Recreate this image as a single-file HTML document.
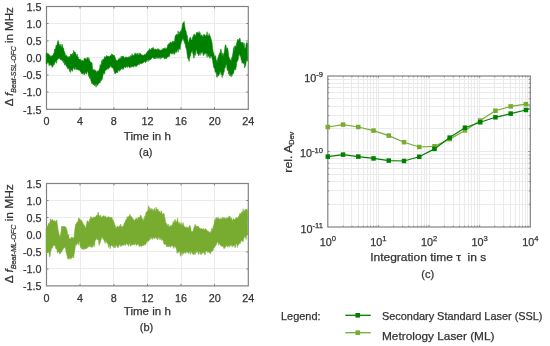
<!DOCTYPE html>
<html><head><meta charset="utf-8"><title>Figure</title>
<style>html,body{margin:0;padding:0;background:#fff;width:550px;height:346px;overflow:hidden}svg{display:block}</style>
</head><body>
<svg width="550" height="346" viewBox="0 0 550 346">
<style>
text{font-family:"Liberation Sans", Arial, sans-serif;fill:#333;stroke:#333;stroke-width:0.25px}
.tk{font-size:10.8px}
.sup{font-size:7.6px}
.lab{font-size:11px}
.yl{font-size:11px}
.sub{font-size:6.6px;font-style:italic}
</style>
<rect width="550" height="346" fill="#fff"/>
<!-- plot a -->
<line x1="46.5" y1="23.5" x2="248.3" y2="23.5" stroke="#ebebeb" stroke-width="1"/>
<line x1="46.5" y1="40.5" x2="248.3" y2="40.5" stroke="#ebebeb" stroke-width="1"/>
<line x1="46.5" y1="57.5" x2="248.3" y2="57.5" stroke="#ebebeb" stroke-width="1"/>
<line x1="46.5" y1="75.5" x2="248.3" y2="75.5" stroke="#ebebeb" stroke-width="1"/>
<line x1="46.5" y1="92.5" x2="248.3" y2="92.5" stroke="#ebebeb" stroke-width="1"/>
<line x1="80.5" y1="6.5" x2="80.5" y2="109.3" stroke="#ebebeb" stroke-width="1"/>
<line x1="113.5" y1="6.5" x2="113.5" y2="109.3" stroke="#ebebeb" stroke-width="1"/>
<line x1="147.5" y1="6.5" x2="147.5" y2="109.3" stroke="#ebebeb" stroke-width="1"/>
<line x1="181.5" y1="6.5" x2="181.5" y2="109.3" stroke="#ebebeb" stroke-width="1"/>
<line x1="214.5" y1="6.5" x2="214.5" y2="109.3" stroke="#ebebeb" stroke-width="1"/>
<line x1="46.5" y1="23.5" x2="48.5" y2="23.5" stroke="#828282" stroke-width="1"/>
<line x1="248.3" y1="23.5" x2="246.3" y2="23.5" stroke="#828282" stroke-width="1"/>
<line x1="46.5" y1="41.0" x2="48.5" y2="41.0" stroke="#828282" stroke-width="1"/>
<line x1="248.3" y1="41.0" x2="246.3" y2="41.0" stroke="#828282" stroke-width="1"/>
<line x1="46.5" y1="58.0" x2="48.5" y2="58.0" stroke="#828282" stroke-width="1"/>
<line x1="248.3" y1="58.0" x2="246.3" y2="58.0" stroke="#828282" stroke-width="1"/>
<line x1="46.5" y1="75.0" x2="48.5" y2="75.0" stroke="#828282" stroke-width="1"/>
<line x1="248.3" y1="75.0" x2="246.3" y2="75.0" stroke="#828282" stroke-width="1"/>
<line x1="46.5" y1="92.0" x2="48.5" y2="92.0" stroke="#828282" stroke-width="1"/>
<line x1="248.3" y1="92.0" x2="246.3" y2="92.0" stroke="#828282" stroke-width="1"/>
<line x1="80.0" y1="109.3" x2="80.0" y2="107.3" stroke="#828282" stroke-width="1"/>
<line x1="80.0" y1="6.5" x2="80.0" y2="8.5" stroke="#828282" stroke-width="1"/>
<line x1="114.0" y1="109.3" x2="114.0" y2="107.3" stroke="#828282" stroke-width="1"/>
<line x1="114.0" y1="6.5" x2="114.0" y2="8.5" stroke="#828282" stroke-width="1"/>
<line x1="147.5" y1="109.3" x2="147.5" y2="107.3" stroke="#828282" stroke-width="1"/>
<line x1="147.5" y1="6.5" x2="147.5" y2="8.5" stroke="#828282" stroke-width="1"/>
<line x1="181.0" y1="109.3" x2="181.0" y2="107.3" stroke="#828282" stroke-width="1"/>
<line x1="181.0" y1="6.5" x2="181.0" y2="8.5" stroke="#828282" stroke-width="1"/>
<line x1="214.5" y1="109.3" x2="214.5" y2="107.3" stroke="#828282" stroke-width="1"/>
<line x1="214.5" y1="6.5" x2="214.5" y2="8.5" stroke="#828282" stroke-width="1"/>
<rect x="46.5" y="6.5" width="201.8" height="102.8" fill="none" stroke="#828282" stroke-width="1.2"/>
<text x="41.6" y="10.7" text-anchor="end" class="tk">1.5</text>
<text x="41.6" y="27.8" text-anchor="end" class="tk">1.0</text>
<text x="41.6" y="45.0" text-anchor="end" class="tk">0.5</text>
<text x="41.6" y="62.1" text-anchor="end" class="tk">0.0</text>
<text x="41.6" y="79.2" text-anchor="end" class="tk">-0.5</text>
<text x="41.6" y="96.4" text-anchor="end" class="tk">-1.0</text>
<text x="41.6" y="113.5" text-anchor="end" class="tk">-1.5</text>
<text x="46.5" y="125.1" text-anchor="middle" class="tk">0</text>
<text x="80.1" y="125.1" text-anchor="middle" class="tk">4</text>
<text x="113.8" y="125.1" text-anchor="middle" class="tk">8</text>
<text x="147.4" y="125.1" text-anchor="middle" class="tk">12</text>
<text x="181.0" y="125.1" text-anchor="middle" class="tk">16</text>
<text x="214.7" y="125.1" text-anchor="middle" class="tk">20</text>
<text x="248.3" y="125.1" text-anchor="middle" class="tk">24</text>
<polygon points="46.10,53.9 46.60,53.0 47.10,54.6 47.60,52.9 48.10,54.5 48.60,53.7 49.10,54.5 49.60,55.8 50.10,55.2 50.60,57.3 51.10,56.1 51.60,55.8 52.10,56.5 52.60,55.1 53.10,54.9 53.60,53.2 54.10,52.8 54.60,49.0 55.10,49.6 55.60,48.0 56.10,45.2 56.60,46.0 57.10,44.3 57.60,41.4 58.10,40.4 58.60,42.1 59.10,43.8 59.60,45.6 60.10,46.6 60.60,44.2 61.10,46.1 61.60,47.7 62.10,44.2 62.60,46.3 63.10,48.0 63.60,48.1 64.10,51.6 64.60,51.7 65.10,53.4 65.60,55.9 66.10,55.5 66.60,55.3 67.10,56.3 67.60,57.5 68.10,56.4 68.60,57.4 69.10,57.1 69.60,56.2 70.10,57.8 70.60,53.8 71.10,55.6 71.60,54.1 72.10,56.1 72.60,53.3 73.10,54.9 73.60,50.4 74.10,51.7 74.60,51.9 75.10,52.0 75.60,53.6 76.10,55.1 76.60,56.8 77.10,54.0 77.60,56.4 78.10,56.7 78.60,58.8 79.10,59.6 79.60,59.1 80.10,59.2 80.60,59.0 81.10,61.3 81.60,60.7 82.10,59.8 82.60,61.2 83.10,60.6 83.60,62.1 84.10,58.6 84.60,58.1 85.10,59.2 85.60,58.5 86.10,58.8 86.60,59.8 87.10,57.5 87.60,59.0 88.10,57.2 88.60,60.5 89.10,58.2 89.60,61.3 90.10,61.0 90.60,62.6 91.10,62.6 91.60,62.3 92.10,63.1 92.60,69.7 93.10,69.5 93.60,69.4 94.10,70.9 94.60,69.5 95.10,70.8 95.60,70.2 96.10,71.4 96.60,72.9 97.10,70.6 97.60,71.9 98.10,70.8 98.60,71.5 99.10,69.3 99.60,69.0 100.10,64.5 100.60,66.0 101.10,64.7 101.60,60.6 102.10,62.4 102.60,59.5 103.10,58.9 103.60,60.0 104.10,58.7 104.60,56.5 105.10,57.0 105.60,57.3 106.10,56.5 106.60,55.5 107.10,55.7 107.60,56.6 108.10,56.2 108.60,56.3 109.10,56.8 109.60,56.3 110.10,55.9 110.60,55.6 111.10,55.4 111.60,53.9 112.10,53.9 112.60,54.7 113.10,54.9 113.60,55.5 114.10,55.1 114.60,56.0 115.10,57.4 115.60,58.7 116.10,60.6 116.60,59.9 117.10,60.7 117.60,60.7 118.10,59.6 118.60,58.7 119.10,59.8 119.60,58.2 120.10,58.3 120.60,58.8 121.10,56.1 121.60,57.2 122.10,57.2 122.60,55.8 123.10,57.9 123.60,56.1 124.10,58.1 124.60,57.7 125.10,58.2 125.60,56.8 126.10,57.9 126.60,56.8 127.10,57.6 127.60,57.4 128.10,57.6 128.60,56.7 129.10,57.7 129.60,56.4 130.10,57.8 130.60,55.6 131.10,55.8 131.60,56.5 132.10,53.8 132.60,55.8 133.10,55.5 133.60,54.8 134.10,55.8 134.60,54.2 135.10,52.8 135.60,54.6 136.10,53.4 136.60,54.2 137.10,54.7 137.60,53.1 138.10,55.3 138.60,54.7 139.10,52.7 139.60,54.9 140.10,53.8 140.60,53.4 141.10,54.2 141.60,54.7 142.10,55.4 142.60,54.8 143.10,56.1 143.60,55.0 144.10,54.8 144.60,54.3 145.10,54.7 145.60,54.2 146.10,53.3 146.60,53.1 147.10,51.8 147.60,51.7 148.10,50.6 148.60,50.4 149.10,50.3 149.60,48.5 150.10,49.3 150.60,50.1 151.10,50.1 151.60,48.0 152.10,48.8 152.60,48.1 153.10,47.3 153.60,48.2 154.10,49.5 154.60,49.5 155.10,48.7 155.60,49.2 156.10,50.3 156.60,49.1 157.10,50.4 157.60,48.6 158.10,50.0 158.60,48.7 159.10,49.4 159.60,49.9 160.10,50.2 160.60,50.1 161.10,50.3 161.60,49.8 162.10,49.8 162.60,48.7 163.10,48.5 163.60,48.6 164.10,48.7 164.60,48.0 165.10,47.5 165.60,49.3 166.10,48.9 166.60,48.0 167.10,47.7 167.60,45.1 168.10,44.7 168.60,43.8 169.10,43.6 169.60,44.0 170.10,42.1 170.60,42.2 171.10,42.2 171.60,43.5 172.10,42.1 172.60,41.1 173.10,42.2 173.60,41.3 174.10,41.8 174.60,40.7 175.10,36.2 175.60,35.3 176.10,35.2 176.60,34.1 177.10,35.1 177.60,35.3 178.10,30.9 178.60,34.1 179.10,34.4 179.60,31.8 180.10,32.8 180.60,30.6 181.10,31.6 181.60,29.2 182.10,27.3 182.60,23.3 183.10,22.7 183.60,22.8 184.10,21.4 184.60,24.5 185.10,28.3 185.60,30.4 186.10,31.1 186.60,34.7 187.10,34.7 187.60,37.4 188.10,42.4 188.60,41.9 189.10,40.6 189.60,37.9 190.10,38.2 190.60,37.3 191.10,39.5 191.60,40.1 192.10,40.1 192.60,36.8 193.10,36.9 193.60,34.8 194.10,34.2 194.60,34.1 195.10,36.5 195.60,35.3 196.10,34.3 196.60,32.6 197.10,32.1 197.60,32.6 198.10,33.3 198.60,33.0 199.10,31.4 199.60,34.0 200.10,32.6 200.60,36.2 201.10,35.2 201.60,34.9 202.10,35.1 202.60,37.1 203.10,36.9 203.60,34.3 204.10,34.9 204.60,34.6 205.10,36.2 205.60,35.7 206.10,34.8 206.60,35.4 207.10,31.7 207.60,36.6 208.10,35.1 208.60,36.7 209.10,33.4 209.60,36.1 210.10,35.7 210.60,37.5 211.10,39.2 211.60,40.6 212.10,42.9 212.60,48.0 213.10,51.3 213.60,52.9 214.10,54.4 214.60,57.3 215.10,56.2 215.60,55.5 216.10,60.3 216.60,59.9 217.10,62.4 217.60,58.6 218.10,57.8 218.60,55.8 219.10,54.4 219.60,52.9 220.10,53.2 220.60,49.6 221.10,49.2 221.60,53.2 222.10,57.1 222.60,52.9 223.10,56.8 223.60,54.1 224.10,53.0 224.60,49.9 225.10,45.6 225.60,44.7 226.10,45.9 226.60,50.3 227.10,48.0 227.60,47.8 228.10,50.9 228.60,54.4 229.10,58.1 229.60,58.2 230.10,59.4 230.60,59.9 231.10,61.1 231.60,57.8 232.10,57.5 232.60,54.7 233.10,52.1 233.60,47.4 234.10,51.4 234.60,45.9 235.10,46.8 235.60,45.6 236.10,47.3 236.60,43.0 237.10,41.8 237.60,39.4 238.10,41.2 238.60,39.6 239.10,39.5 239.60,38.3 240.10,38.2 240.60,42.3 241.10,42.1 241.60,42.4 242.10,43.8 242.60,42.0 243.10,42.9 243.60,46.1 244.10,42.8 244.60,47.5 245.10,48.7 245.60,47.5 246.10,43.7 246.60,42.7 247.10,42.8 247.60,43.0 247.60,60.7 247.10,61.3 246.60,59.5 246.10,62.7 245.60,65.9 245.10,66.2 244.60,68.0 244.10,61.9 243.60,63.7 243.10,62.9 242.60,61.9 242.10,63.4 241.60,60.2 241.10,59.9 240.60,55.0 240.10,56.5 239.60,54.7 239.10,54.1 238.60,56.7 238.10,59.7 237.60,61.3 237.10,60.7 236.60,64.0 236.10,67.9 235.60,70.1 235.10,67.6 234.60,69.8 234.10,70.4 233.60,73.8 233.10,72.1 232.60,74.6 232.10,75.7 231.60,73.9 231.10,77.1 230.60,73.4 230.10,76.0 229.60,75.5 229.10,72.6 228.60,74.2 228.10,69.2 227.60,70.8 227.10,69.9 226.60,65.2 226.10,63.8 225.60,66.5 225.10,68.2 224.60,68.3 224.10,72.1 223.60,73.1 223.10,75.3 222.60,74.3 222.10,77.6 221.60,72.5 221.10,75.0 220.60,72.2 220.10,70.7 219.60,74.1 219.10,73.9 218.60,75.7 218.10,76.2 217.60,74.3 217.10,77.5 216.60,76.6 216.10,72.0 215.60,72.4 215.10,71.8 214.60,67.9 214.10,68.3 213.60,67.1 213.10,64.3 212.60,60.2 212.10,58.7 211.60,56.1 211.10,56.6 210.60,56.2 210.10,58.4 209.60,58.1 209.10,54.4 208.60,56.6 208.10,56.2 207.60,52.7 207.10,57.4 206.60,54.4 206.10,53.5 205.60,52.0 205.10,54.4 204.60,54.0 204.10,53.3 203.60,55.4 203.10,55.6 202.60,51.9 202.10,52.0 201.60,52.6 201.10,53.7 200.60,51.8 200.10,55.4 199.60,52.4 199.10,55.1 198.60,55.8 198.10,53.7 197.60,53.0 197.10,54.0 196.60,49.4 196.10,50.0 195.60,53.7 195.10,55.5 194.60,52.9 194.10,58.3 193.60,57.5 193.10,54.4 192.60,52.8 192.10,50.0 191.60,52.6 191.10,51.6 190.60,55.6 190.10,56.4 189.60,58.2 189.10,61.5 188.60,59.2 188.10,59.1 187.60,57.5 187.10,54.1 186.60,50.1 186.10,48.3 185.60,47.0 185.10,43.5 184.60,43.4 184.10,41.0 183.60,40.4 183.10,37.7 182.60,39.5 182.10,40.5 181.60,41.6 181.10,43.1 180.60,45.6 180.10,49.9 179.60,49.3 179.10,48.4 178.60,49.3 178.10,52.3 177.60,49.8 177.10,49.9 176.60,52.2 176.10,52.6 175.60,50.6 175.10,53.4 174.60,53.3 174.10,54.7 173.60,52.0 173.10,53.6 172.60,54.1 172.10,52.6 171.60,54.2 171.10,53.5 170.60,52.9 170.10,53.5 169.60,55.4 169.10,57.1 168.60,56.1 168.10,56.7 167.60,57.1 167.10,57.1 166.60,58.5 166.10,58.8 165.60,57.9 165.10,58.8 164.60,58.8 164.10,58.5 163.60,57.6 163.10,56.8 162.60,57.6 162.10,57.1 161.60,58.2 161.10,57.8 160.60,57.5 160.10,59.3 159.60,57.8 159.10,57.0 158.60,58.4 158.10,57.8 157.60,58.4 157.10,57.1 156.60,57.0 156.10,58.6 155.60,57.3 155.10,59.0 154.60,57.9 154.10,58.9 153.60,58.2 153.10,57.3 152.60,57.1 152.10,58.2 151.60,58.4 151.10,59.3 150.60,59.4 150.10,59.8 149.60,60.2 149.10,59.8 148.60,59.7 148.10,61.6 147.60,59.7 147.10,60.6 146.60,60.5 146.10,62.2 145.60,62.5 145.10,62.5 144.60,61.3 144.10,62.0 143.60,62.5 143.10,62.7 142.60,62.7 142.10,63.7 141.60,63.1 141.10,64.1 140.60,62.9 140.10,63.7 139.60,63.6 139.10,65.1 138.60,63.6 138.10,64.9 137.60,65.3 137.10,65.2 136.60,65.9 136.10,66.8 135.60,66.0 135.10,66.0 134.60,66.2 134.10,65.6 133.60,67.3 133.10,66.5 132.60,66.1 132.10,66.9 131.60,65.8 131.10,67.6 130.60,66.8 130.10,67.6 129.60,67.9 129.10,66.8 128.60,66.2 128.10,66.7 127.60,67.7 127.10,66.6 126.60,66.0 126.10,67.1 125.60,68.1 125.10,66.7 124.60,66.9 124.10,67.0 123.60,69.4 123.10,67.4 122.60,69.4 122.10,68.1 121.60,69.1 121.10,68.5 120.60,70.3 120.10,68.9 119.60,70.8 119.10,71.5 118.60,69.7 118.10,70.3 117.60,73.0 117.10,72.5 116.60,72.2 116.10,73.1 115.60,73.4 115.10,73.9 114.60,73.0 114.10,71.2 113.60,69.6 113.10,68.3 112.60,67.9 112.10,67.6 111.60,67.4 111.10,65.9 110.60,65.7 110.10,67.6 109.60,67.6 109.10,67.1 108.60,69.2 108.10,68.1 107.60,68.8 107.10,69.5 106.60,69.5 106.10,70.3 105.60,70.6 105.10,70.3 104.60,74.2 104.10,72.7 103.60,73.5 103.10,74.8 102.60,77.5 102.10,79.7 101.60,79.5 101.10,81.1 100.60,80.6 100.10,83.1 99.60,82.4 99.10,83.4 98.60,83.3 98.10,84.4 97.60,85.6 97.10,84.2 96.60,84.4 96.10,87.2 95.60,85.5 95.10,83.5 94.60,85.9 94.10,84.0 93.60,84.7 93.10,85.0 92.60,82.2 92.10,83.9 91.60,83.0 91.10,81.4 90.60,79.5 90.10,76.9 89.60,78.5 89.10,75.3 88.60,76.4 88.10,72.9 87.60,71.5 87.10,71.4 86.60,74.3 86.10,73.0 85.60,72.4 85.10,73.6 84.60,73.9 84.10,75.1 83.60,73.4 83.10,72.9 82.60,74.1 82.10,73.7 81.60,73.8 81.10,72.6 80.60,71.9 80.10,70.9 79.60,69.6 79.10,70.6 78.60,70.0 78.10,69.7 77.60,69.5 77.10,69.6 76.60,68.8 76.10,69.9 75.60,68.2 75.10,66.5 74.60,69.7 74.10,69.3 73.60,67.9 73.10,67.7 72.60,71.4 72.10,70.4 71.60,70.1 71.10,70.2 70.60,72.6 70.10,69.0 69.60,71.5 69.10,68.3 68.60,68.0 68.10,69.2 67.60,68.7 67.10,66.8 66.60,66.4 66.10,66.2 65.60,64.1 65.10,64.3 64.60,65.2 64.10,61.5 63.60,63.1 63.10,59.7 62.60,61.4 62.10,60.8 61.60,59.7 61.10,59.7 60.60,60.0 60.10,58.7 59.60,58.6 59.10,58.2 58.60,57.9 58.10,59.5 57.60,59.4 57.10,59.3 56.60,63.3 56.10,60.3 55.60,62.1 55.10,62.1 54.60,63.2 54.10,65.0 53.60,63.9 53.10,66.5 52.60,66.5 52.10,67.4 51.60,65.5 51.10,64.9 50.60,64.5 50.10,65.4 49.60,64.1 49.10,65.8 48.60,63.1 48.10,62.4 47.60,62.3 47.10,63.5 46.60,64.1 46.10,64.1" fill="#008000" stroke="#008000" stroke-width="0.5" stroke-linejoin="round"/>
<text class="lab" x="147.3" y="139.7" text-anchor="middle" textLength="47" lengthAdjust="spacingAndGlyphs">Time in h</text>
<text class="lab" x="145.8" y="156.1" text-anchor="middle">(a)</text>
<text class="yl" transform="translate(13,56.7) rotate(-90)" text-anchor="middle" textLength="99" lengthAdjust="spacingAndGlyphs">&#916; <tspan font-style="italic">f</tspan><tspan class="sub" dy="2.6">Beat-SSL-OFC</tspan><tspan dy="-2.6"> in MHz</tspan></text>
<!-- plot b -->
<line x1="46.5" y1="200.5" x2="248.3" y2="200.5" stroke="#ebebeb" stroke-width="1"/>
<line x1="46.5" y1="217.5" x2="248.3" y2="217.5" stroke="#ebebeb" stroke-width="1"/>
<line x1="46.5" y1="234.5" x2="248.3" y2="234.5" stroke="#ebebeb" stroke-width="1"/>
<line x1="46.5" y1="251.5" x2="248.3" y2="251.5" stroke="#ebebeb" stroke-width="1"/>
<line x1="46.5" y1="268.5" x2="248.3" y2="268.5" stroke="#ebebeb" stroke-width="1"/>
<line x1="80.5" y1="183.5" x2="80.5" y2="285.9" stroke="#ebebeb" stroke-width="1"/>
<line x1="113.5" y1="183.5" x2="113.5" y2="285.9" stroke="#ebebeb" stroke-width="1"/>
<line x1="147.5" y1="183.5" x2="147.5" y2="285.9" stroke="#ebebeb" stroke-width="1"/>
<line x1="181.5" y1="183.5" x2="181.5" y2="285.9" stroke="#ebebeb" stroke-width="1"/>
<line x1="214.5" y1="183.5" x2="214.5" y2="285.9" stroke="#ebebeb" stroke-width="1"/>
<line x1="46.5" y1="200.5" x2="48.5" y2="200.5" stroke="#828282" stroke-width="1"/>
<line x1="248.3" y1="200.5" x2="246.3" y2="200.5" stroke="#828282" stroke-width="1"/>
<line x1="46.5" y1="217.5" x2="48.5" y2="217.5" stroke="#828282" stroke-width="1"/>
<line x1="248.3" y1="217.5" x2="246.3" y2="217.5" stroke="#828282" stroke-width="1"/>
<line x1="46.5" y1="234.5" x2="48.5" y2="234.5" stroke="#828282" stroke-width="1"/>
<line x1="248.3" y1="234.5" x2="246.3" y2="234.5" stroke="#828282" stroke-width="1"/>
<line x1="46.5" y1="252.0" x2="48.5" y2="252.0" stroke="#828282" stroke-width="1"/>
<line x1="248.3" y1="252.0" x2="246.3" y2="252.0" stroke="#828282" stroke-width="1"/>
<line x1="46.5" y1="269.0" x2="48.5" y2="269.0" stroke="#828282" stroke-width="1"/>
<line x1="248.3" y1="269.0" x2="246.3" y2="269.0" stroke="#828282" stroke-width="1"/>
<line x1="80.0" y1="285.9" x2="80.0" y2="283.9" stroke="#828282" stroke-width="1"/>
<line x1="80.0" y1="183.5" x2="80.0" y2="185.5" stroke="#828282" stroke-width="1"/>
<line x1="114.0" y1="285.9" x2="114.0" y2="283.9" stroke="#828282" stroke-width="1"/>
<line x1="114.0" y1="183.5" x2="114.0" y2="185.5" stroke="#828282" stroke-width="1"/>
<line x1="147.5" y1="285.9" x2="147.5" y2="283.9" stroke="#828282" stroke-width="1"/>
<line x1="147.5" y1="183.5" x2="147.5" y2="185.5" stroke="#828282" stroke-width="1"/>
<line x1="181.0" y1="285.9" x2="181.0" y2="283.9" stroke="#828282" stroke-width="1"/>
<line x1="181.0" y1="183.5" x2="181.0" y2="185.5" stroke="#828282" stroke-width="1"/>
<line x1="214.5" y1="285.9" x2="214.5" y2="283.9" stroke="#828282" stroke-width="1"/>
<line x1="214.5" y1="183.5" x2="214.5" y2="185.5" stroke="#828282" stroke-width="1"/>
<rect x="46.5" y="183.5" width="201.8" height="102.4" fill="none" stroke="#828282" stroke-width="1.2"/>
<text x="41.6" y="187.7" text-anchor="end" class="tk">1.5</text>
<text x="41.6" y="204.8" text-anchor="end" class="tk">1.0</text>
<text x="41.6" y="221.8" text-anchor="end" class="tk">0.5</text>
<text x="41.6" y="238.9" text-anchor="end" class="tk">0.0</text>
<text x="41.6" y="256.0" text-anchor="end" class="tk">-0.5</text>
<text x="41.6" y="273.0" text-anchor="end" class="tk">-1.0</text>
<text x="41.6" y="290.1" text-anchor="end" class="tk">-1.5</text>
<text x="46.5" y="301.7" text-anchor="middle" class="tk">0</text>
<text x="80.1" y="301.7" text-anchor="middle" class="tk">4</text>
<text x="113.8" y="301.7" text-anchor="middle" class="tk">8</text>
<text x="147.4" y="301.7" text-anchor="middle" class="tk">12</text>
<text x="181.0" y="301.7" text-anchor="middle" class="tk">16</text>
<text x="214.7" y="301.7" text-anchor="middle" class="tk">20</text>
<text x="248.3" y="301.7" text-anchor="middle" class="tk">24</text>
<polygon points="46.10,227.9 46.60,227.7 47.10,225.7 47.60,227.3 48.10,224.8 48.60,223.1 49.10,223.7 49.60,223.0 50.10,221.4 50.60,218.5 51.10,219.7 51.60,220.6 52.10,219.5 52.60,219.6 53.10,221.1 53.60,221.3 54.10,220.5 54.60,220.8 55.10,221.2 55.60,221.4 56.10,220.8 56.60,219.8 57.10,222.4 57.60,225.4 58.10,230.0 58.60,231.5 59.10,234.5 59.60,235.7 60.10,237.2 60.60,234.3 61.10,231.1 61.60,226.3 62.10,226.5 62.60,226.7 63.10,226.1 63.60,226.7 64.10,226.6 64.60,226.6 65.10,226.3 65.60,228.0 66.10,227.5 66.60,228.9 67.10,230.7 67.60,234.2 68.10,234.9 68.60,234.5 69.10,237.9 69.60,238.7 70.10,238.9 70.60,238.9 71.10,237.2 71.60,237.6 72.10,236.9 72.60,237.5 73.10,238.7 73.60,238.0 74.10,236.4 74.60,231.4 75.10,227.6 75.60,224.3 76.10,223.8 76.60,223.3 77.10,221.8 77.60,222.1 78.10,221.1 78.60,217.8 79.10,218.8 79.60,218.7 80.10,219.4 80.60,219.9 81.10,220.9 81.60,220.3 82.10,221.5 82.60,222.8 83.10,223.2 83.60,224.6 84.10,224.8 84.60,225.6 85.10,228.3 85.60,227.1 86.10,226.4 86.60,223.8 87.10,220.8 87.60,220.8 88.10,222.7 88.60,221.5 89.10,221.9 89.60,219.2 90.10,220.6 90.60,216.8 91.10,216.7 91.60,217.8 92.10,217.8 92.60,218.6 93.10,217.4 93.60,217.3 94.10,216.7 94.60,218.1 95.10,217.3 95.60,216.7 96.10,215.7 96.60,215.7 97.10,214.8 97.60,215.7 98.10,211.9 98.60,213.8 99.10,216.5 99.60,216.2 100.10,215.4 100.60,215.1 101.10,217.3 101.60,217.2 102.10,216.8 102.60,216.4 103.10,215.8 103.60,215.9 104.10,216.1 104.60,218.1 105.10,215.6 105.60,216.6 106.10,218.1 106.60,217.7 107.10,216.7 107.60,217.5 108.10,217.5 108.60,216.6 109.10,216.7 109.60,217.7 110.10,217.1 110.60,218.5 111.10,217.0 111.60,218.3 112.10,217.4 112.60,221.1 113.10,219.7 113.60,221.5 114.10,222.3 114.60,224.8 115.10,225.2 115.60,227.0 116.10,227.9 116.60,228.0 117.10,226.0 117.60,226.3 118.10,227.2 118.60,226.9 119.10,226.4 119.60,225.6 120.10,227.2 120.60,224.0 121.10,225.6 121.60,227.2 122.10,226.4 122.60,227.1 123.10,225.8 123.60,226.1 124.10,223.2 124.60,223.0 125.10,221.9 125.60,220.7 126.10,219.3 126.60,220.2 127.10,216.5 127.60,218.3 128.10,217.3 128.60,216.5 129.10,215.8 129.60,215.2 130.10,214.3 130.60,216.5 131.10,216.5 131.60,216.5 132.10,218.0 132.60,218.2 133.10,218.7 133.60,219.4 134.10,220.8 134.60,220.7 135.10,219.3 135.60,218.9 136.10,218.8 136.60,217.9 137.10,220.0 137.60,219.6 138.10,217.3 138.60,217.6 139.10,216.9 139.60,219.0 140.10,215.8 140.60,215.2 141.10,215.3 141.60,218.3 142.10,217.8 142.60,220.1 143.10,221.5 143.60,218.7 144.10,219.6 144.60,216.3 145.10,216.4 145.60,214.5 146.10,212.0 146.60,213.0 147.10,211.2 147.60,210.6 148.10,210.5 148.60,205.7 149.10,210.6 149.60,207.2 150.10,209.2 150.60,210.3 151.10,208.1 151.60,210.2 152.10,209.2 152.60,209.0 153.10,210.5 153.60,211.4 154.10,208.7 154.60,208.5 155.10,211.0 155.60,211.2 156.10,207.1 156.60,210.1 157.10,209.1 157.60,209.3 158.10,209.4 158.60,211.7 159.10,211.0 159.60,211.7 160.10,212.5 160.60,213.3 161.10,210.7 161.60,211.3 162.10,214.0 162.60,214.0 163.10,214.6 163.60,213.1 164.10,213.7 164.60,216.8 165.10,218.9 165.60,222.1 166.10,223.5 166.60,223.5 167.10,225.5 167.60,225.5 168.10,223.9 168.60,225.9 169.10,226.4 169.60,227.1 170.10,225.3 170.60,226.7 171.10,225.6 171.60,226.0 172.10,224.7 172.60,224.7 173.10,221.4 173.60,223.0 174.10,222.5 174.60,220.3 175.10,219.3 175.60,221.6 176.10,221.6 176.60,222.2 177.10,220.5 177.60,218.1 178.10,222.5 178.60,223.8 179.10,222.1 179.60,223.9 180.10,223.5 180.60,225.4 181.10,222.4 181.60,225.8 182.10,224.7 182.60,224.7 183.10,222.6 183.60,225.2 184.10,225.9 184.60,226.6 185.10,227.6 185.60,227.3 186.10,228.2 186.60,226.6 187.10,228.4 187.60,226.9 188.10,228.8 188.60,227.3 189.10,226.6 189.60,225.2 190.10,225.6 190.60,226.7 191.10,230.5 191.60,232.5 192.10,231.2 192.60,232.7 193.10,230.1 193.60,228.9 194.10,227.3 194.60,226.2 195.10,224.4 195.60,225.1 196.10,226.3 196.60,226.5 197.10,225.8 197.60,226.6 198.10,226.2 198.60,226.6 199.10,228.2 199.60,228.1 200.10,228.0 200.60,229.3 201.10,229.1 201.60,228.5 202.10,229.1 202.60,229.0 203.10,229.5 203.60,228.4 204.10,228.9 204.60,230.6 205.10,229.0 205.60,228.8 206.10,229.1 206.60,230.4 207.10,230.4 207.60,230.7 208.10,231.8 208.60,231.5 209.10,231.4 209.60,232.3 210.10,233.2 210.60,231.8 211.10,231.7 211.60,228.4 212.10,229.4 212.60,229.5 213.10,226.4 213.60,225.4 214.10,223.6 214.60,219.7 215.10,221.0 215.60,218.3 216.10,219.0 216.60,217.5 217.10,218.9 217.60,217.7 218.10,217.5 218.60,219.3 219.10,218.2 219.60,219.8 220.10,219.2 220.60,218.9 221.10,218.0 221.60,219.4 222.10,219.1 222.60,217.1 223.10,217.2 223.60,218.2 224.10,218.8 224.60,217.7 225.10,218.5 225.60,219.1 226.10,217.6 226.60,219.6 227.10,217.7 227.60,218.1 228.10,217.9 228.60,216.9 229.10,215.8 229.60,216.7 230.10,216.6 230.60,219.1 231.10,218.3 231.60,217.9 232.10,220.2 232.60,220.5 233.10,219.2 233.60,218.6 234.10,219.0 234.60,219.5 235.10,219.4 235.60,218.4 236.10,217.5 236.60,217.4 237.10,218.8 237.60,217.8 238.10,218.0 238.60,215.9 239.10,216.5 239.60,213.6 240.10,214.7 240.60,213.2 241.10,213.9 241.60,212.1 242.10,211.8 242.60,213.1 243.10,208.7 243.60,211.7 244.10,211.1 244.60,211.4 245.10,208.9 245.60,210.9 246.10,209.4 246.60,209.5 247.10,209.3 247.60,210.9 247.60,234.1 247.10,234.1 246.60,235.8 246.10,239.5 245.60,237.4 245.10,236.8 244.60,236.3 244.10,238.2 243.60,238.7 243.10,242.0 242.60,239.8 242.10,241.5 241.60,240.6 241.10,240.5 240.60,242.6 240.10,243.6 239.60,242.4 239.10,244.0 238.60,245.0 238.10,244.5 237.60,247.5 237.10,244.7 236.60,243.1 236.10,244.6 235.60,246.5 235.10,247.8 234.60,243.9 234.10,246.2 233.60,245.2 233.10,245.6 232.60,246.9 232.10,245.3 231.60,244.4 231.10,246.5 230.60,245.5 230.10,245.5 229.60,244.7 229.10,247.4 228.60,245.5 228.10,245.9 227.60,247.1 227.10,245.4 226.60,245.4 226.10,246.1 225.60,247.4 225.10,246.5 224.60,247.7 224.10,248.9 223.60,247.5 223.10,245.8 222.60,246.4 222.10,246.0 221.60,246.5 221.10,245.0 220.60,245.7 220.10,244.6 219.60,243.8 219.10,243.8 218.60,245.3 218.10,242.5 217.60,241.4 217.10,242.4 216.60,244.5 216.10,243.5 215.60,246.1 215.10,245.9 214.60,247.7 214.10,247.4 213.60,248.2 213.10,250.5 212.60,251.2 212.10,250.2 211.60,251.6 211.10,251.8 210.60,253.9 210.10,252.8 209.60,252.7 209.10,252.2 208.60,251.8 208.10,252.6 207.60,252.6 207.10,251.1 206.60,250.9 206.10,251.5 205.60,251.2 205.10,255.1 204.60,253.5 204.10,253.6 203.60,252.5 203.10,251.7 202.60,253.1 202.10,253.4 201.60,252.5 201.10,255.0 200.60,251.9 200.10,254.2 199.60,251.4 199.10,251.3 198.60,254.5 198.10,253.7 197.60,251.3 197.10,251.8 196.60,250.6 196.10,253.0 195.60,250.9 195.10,254.8 194.60,251.9 194.10,253.4 193.60,254.9 193.10,254.5 192.60,253.7 192.10,253.2 191.60,252.0 191.10,251.5 190.60,254.5 190.10,251.3 189.60,251.2 189.10,253.4 188.60,253.5 188.10,252.2 187.60,252.3 187.10,252.6 186.60,252.2 186.10,251.5 185.60,253.6 185.10,253.2 184.60,252.2 184.10,251.8 183.60,254.1 183.10,252.7 182.60,251.8 182.10,255.6 181.60,253.6 181.10,252.1 180.60,256.4 180.10,254.1 179.60,251.0 179.10,251.4 178.60,252.5 178.10,252.1 177.60,252.0 177.10,253.5 176.60,250.4 176.10,248.1 175.60,247.5 175.10,246.3 174.60,246.7 174.10,247.1 173.60,248.5 173.10,246.1 172.60,245.8 172.10,246.2 171.60,246.3 171.10,245.4 170.60,247.0 170.10,247.2 169.60,245.5 169.10,246.6 168.60,246.6 168.10,246.2 167.60,246.9 167.10,245.2 166.60,247.1 166.10,245.1 165.60,244.0 165.10,244.4 164.60,244.5 164.10,243.9 163.60,243.3 163.10,240.7 162.60,240.3 162.10,239.0 161.60,240.5 161.10,237.7 160.60,238.1 160.10,240.0 159.60,238.7 159.10,237.3 158.60,236.3 158.10,239.5 157.60,239.9 157.10,238.2 156.60,238.2 156.10,238.3 155.60,237.1 155.10,238.1 154.60,238.0 154.10,238.6 153.60,237.8 153.10,237.3 152.60,239.4 152.10,238.6 151.60,239.1 151.10,236.9 150.60,237.3 150.10,239.7 149.60,239.2 149.10,240.4 148.60,241.0 148.10,241.3 147.60,240.8 147.10,242.5 146.60,241.1 146.10,243.6 145.60,244.3 145.10,245.3 144.60,244.5 144.10,244.2 143.60,245.8 143.10,245.2 142.60,245.8 142.10,245.3 141.60,246.3 141.10,246.6 140.60,244.9 140.10,246.3 139.60,245.9 139.10,246.5 138.60,244.1 138.10,243.9 137.60,244.9 137.10,243.3 136.60,245.4 136.10,245.4 135.60,243.2 135.10,243.5 134.60,245.0 134.10,244.9 133.60,243.3 133.10,245.1 132.60,244.7 132.10,245.2 131.60,244.9 131.10,244.6 130.60,246.4 130.10,244.9 129.60,242.2 129.10,244.2 128.60,246.4 128.10,243.7 127.60,244.6 127.10,244.4 126.60,243.1 126.10,244.3 125.60,245.5 125.10,243.6 124.60,244.4 124.10,245.3 123.60,244.7 123.10,245.6 122.60,244.7 122.10,245.6 121.60,246.3 121.10,244.9 120.60,246.5 120.10,244.5 119.60,245.0 119.10,244.8 118.60,247.3 118.10,246.5 117.60,247.8 117.10,245.9 116.60,245.8 116.10,245.1 115.60,246.0 115.10,247.8 114.60,245.4 114.10,248.0 113.60,245.8 113.10,246.4 112.60,246.5 112.10,245.0 111.60,245.1 111.10,245.8 110.60,246.8 110.10,248.8 109.60,246.3 109.10,245.2 108.60,247.3 108.10,243.7 107.60,243.6 107.10,243.5 106.60,241.8 106.10,241.8 105.60,240.3 105.10,243.6 104.60,240.9 104.10,241.1 103.60,238.6 103.10,239.5 102.60,237.8 102.10,237.3 101.60,237.4 101.10,240.0 100.60,241.0 100.10,243.3 99.60,243.3 99.10,245.5 98.60,241.0 98.10,239.6 97.60,239.9 97.10,239.4 96.60,237.4 96.10,239.7 95.60,240.3 95.10,240.6 94.60,245.1 94.10,246.9 93.60,244.1 93.10,244.9 92.60,247.3 92.10,245.7 91.60,247.2 91.10,247.5 90.60,246.9 90.10,244.5 89.60,246.7 89.10,246.9 88.60,247.1 88.10,245.5 87.60,247.8 87.10,248.2 86.60,248.4 86.10,249.1 85.60,248.9 85.10,248.3 84.60,248.3 84.10,249.7 83.60,248.9 83.10,249.3 82.60,249.4 82.10,248.1 81.60,249.0 81.10,246.3 80.60,247.7 80.10,246.2 79.60,242.2 79.10,240.8 78.60,245.1 78.10,243.3 77.60,242.3 77.10,244.4 76.60,244.0 76.10,245.6 75.60,244.3 75.10,248.4 74.60,251.8 74.10,254.5 73.60,258.0 73.10,255.9 72.60,256.6 72.10,257.9 71.60,257.0 71.10,259.2 70.60,258.4 70.10,258.3 69.60,257.3 69.10,259.5 68.60,258.8 68.10,257.9 67.60,258.6 67.10,256.2 66.60,254.0 66.10,252.4 65.60,249.1 65.10,246.6 64.60,247.9 64.10,247.0 63.60,248.4 63.10,249.4 62.60,249.7 62.10,250.9 61.60,252.3 61.10,250.9 60.60,253.5 60.10,254.0 59.60,254.1 59.10,252.1 58.60,251.9 58.10,251.9 57.60,253.0 57.10,250.5 56.60,248.7 56.10,248.9 55.60,248.2 55.10,245.5 54.60,245.9 54.10,244.9 53.60,245.5 53.10,245.3 52.60,248.4 52.10,247.2 51.60,248.0 51.10,250.9 50.60,251.7 50.10,256.2 49.60,257.1 49.10,253.7 48.60,252.0 48.10,250.9 47.60,253.0 47.10,252.2 46.60,253.5 46.10,253.3" fill="#77ac30" stroke="#77ac30" stroke-width="0.5" stroke-linejoin="round"/>
<text class="lab" x="147.3" y="314.7" text-anchor="middle" textLength="47" lengthAdjust="spacingAndGlyphs">Time in h</text>
<text class="lab" x="146.5" y="330.8" text-anchor="middle">(b)</text>
<text class="yl" transform="translate(13,233.7) rotate(-90)" text-anchor="middle" textLength="99" lengthAdjust="spacingAndGlyphs">&#916; <tspan font-style="italic">f</tspan><tspan class="sub" dy="2.6">Beat-ML-OFC</tspan><tspan dy="-2.6"> in MHz</tspan></text>
<!-- plot c -->
<line x1="343.5" y1="76.0" x2="343.5" y2="227.0" stroke="#ebebeb" stroke-width="1"/>
<line x1="351.5" y1="76.0" x2="351.5" y2="227.0" stroke="#ebebeb" stroke-width="1"/>
<line x1="358.5" y1="76.0" x2="358.5" y2="227.0" stroke="#ebebeb" stroke-width="1"/>
<line x1="363.5" y1="76.0" x2="363.5" y2="227.0" stroke="#ebebeb" stroke-width="1"/>
<line x1="367.5" y1="76.0" x2="367.5" y2="227.0" stroke="#ebebeb" stroke-width="1"/>
<line x1="370.5" y1="76.0" x2="370.5" y2="227.0" stroke="#ebebeb" stroke-width="1"/>
<line x1="373.5" y1="76.0" x2="373.5" y2="227.0" stroke="#ebebeb" stroke-width="1"/>
<line x1="376.5" y1="76.0" x2="376.5" y2="227.0" stroke="#ebebeb" stroke-width="1"/>
<line x1="378.5" y1="76.0" x2="378.5" y2="227.0" stroke="#ebebeb" stroke-width="1"/>
<line x1="393.5" y1="76.0" x2="393.5" y2="227.0" stroke="#ebebeb" stroke-width="1"/>
<line x1="402.5" y1="76.0" x2="402.5" y2="227.0" stroke="#ebebeb" stroke-width="1"/>
<line x1="408.5" y1="76.0" x2="408.5" y2="227.0" stroke="#ebebeb" stroke-width="1"/>
<line x1="413.5" y1="76.0" x2="413.5" y2="227.0" stroke="#ebebeb" stroke-width="1"/>
<line x1="417.5" y1="76.0" x2="417.5" y2="227.0" stroke="#ebebeb" stroke-width="1"/>
<line x1="421.5" y1="76.0" x2="421.5" y2="227.0" stroke="#ebebeb" stroke-width="1"/>
<line x1="424.5" y1="76.0" x2="424.5" y2="227.0" stroke="#ebebeb" stroke-width="1"/>
<line x1="426.5" y1="76.0" x2="426.5" y2="227.0" stroke="#ebebeb" stroke-width="1"/>
<line x1="429.5" y1="76.0" x2="429.5" y2="227.0" stroke="#ebebeb" stroke-width="1"/>
<line x1="444.5" y1="76.0" x2="444.5" y2="227.0" stroke="#ebebeb" stroke-width="1"/>
<line x1="453.5" y1="76.0" x2="453.5" y2="227.0" stroke="#ebebeb" stroke-width="1"/>
<line x1="459.5" y1="76.0" x2="459.5" y2="227.0" stroke="#ebebeb" stroke-width="1"/>
<line x1="464.5" y1="76.0" x2="464.5" y2="227.0" stroke="#ebebeb" stroke-width="1"/>
<line x1="468.5" y1="76.0" x2="468.5" y2="227.0" stroke="#ebebeb" stroke-width="1"/>
<line x1="471.5" y1="76.0" x2="471.5" y2="227.0" stroke="#ebebeb" stroke-width="1"/>
<line x1="474.5" y1="76.0" x2="474.5" y2="227.0" stroke="#ebebeb" stroke-width="1"/>
<line x1="477.5" y1="76.0" x2="477.5" y2="227.0" stroke="#ebebeb" stroke-width="1"/>
<line x1="479.5" y1="76.0" x2="479.5" y2="227.0" stroke="#ebebeb" stroke-width="1"/>
<line x1="494.5" y1="76.0" x2="494.5" y2="227.0" stroke="#ebebeb" stroke-width="1"/>
<line x1="503.5" y1="76.0" x2="503.5" y2="227.0" stroke="#ebebeb" stroke-width="1"/>
<line x1="510.5" y1="76.0" x2="510.5" y2="227.0" stroke="#ebebeb" stroke-width="1"/>
<line x1="515.5" y1="76.0" x2="515.5" y2="227.0" stroke="#ebebeb" stroke-width="1"/>
<line x1="519.5" y1="76.0" x2="519.5" y2="227.0" stroke="#ebebeb" stroke-width="1"/>
<line x1="522.5" y1="76.0" x2="522.5" y2="227.0" stroke="#ebebeb" stroke-width="1"/>
<line x1="525.5" y1="76.0" x2="525.5" y2="227.0" stroke="#ebebeb" stroke-width="1"/>
<line x1="527.5" y1="76.0" x2="527.5" y2="227.0" stroke="#ebebeb" stroke-width="1"/>
<line x1="327.8" y1="204.5" x2="530.3" y2="204.5" stroke="#ebebeb" stroke-width="1"/>
<line x1="327.8" y1="190.5" x2="530.3" y2="190.5" stroke="#ebebeb" stroke-width="1"/>
<line x1="327.8" y1="181.5" x2="530.3" y2="181.5" stroke="#ebebeb" stroke-width="1"/>
<line x1="327.8" y1="174.5" x2="530.3" y2="174.5" stroke="#ebebeb" stroke-width="1"/>
<line x1="327.8" y1="168.5" x2="530.3" y2="168.5" stroke="#ebebeb" stroke-width="1"/>
<line x1="327.8" y1="163.5" x2="530.3" y2="163.5" stroke="#ebebeb" stroke-width="1"/>
<line x1="327.8" y1="158.5" x2="530.3" y2="158.5" stroke="#ebebeb" stroke-width="1"/>
<line x1="327.8" y1="154.5" x2="530.3" y2="154.5" stroke="#ebebeb" stroke-width="1"/>
<line x1="327.8" y1="151.5" x2="530.3" y2="151.5" stroke="#ebebeb" stroke-width="1"/>
<line x1="327.8" y1="128.5" x2="530.3" y2="128.5" stroke="#ebebeb" stroke-width="1"/>
<line x1="327.8" y1="115.5" x2="530.3" y2="115.5" stroke="#ebebeb" stroke-width="1"/>
<line x1="327.8" y1="106.5" x2="530.3" y2="106.5" stroke="#ebebeb" stroke-width="1"/>
<line x1="327.8" y1="98.5" x2="530.3" y2="98.5" stroke="#ebebeb" stroke-width="1"/>
<line x1="327.8" y1="92.5" x2="530.3" y2="92.5" stroke="#ebebeb" stroke-width="1"/>
<line x1="327.8" y1="87.5" x2="530.3" y2="87.5" stroke="#ebebeb" stroke-width="1"/>
<line x1="327.8" y1="83.5" x2="530.3" y2="83.5" stroke="#ebebeb" stroke-width="1"/>
<line x1="327.8" y1="79.5" x2="530.3" y2="79.5" stroke="#ebebeb" stroke-width="1"/>
<line x1="343.0" y1="227.0" x2="343.0" y2="225.6" stroke="#828282" stroke-width="0.9"/>
<line x1="343.0" y1="76.0" x2="343.0" y2="77.4" stroke="#828282" stroke-width="0.9"/>
<line x1="352.0" y1="227.0" x2="352.0" y2="225.6" stroke="#828282" stroke-width="0.9"/>
<line x1="352.0" y1="76.0" x2="352.0" y2="77.4" stroke="#828282" stroke-width="0.9"/>
<line x1="358.3" y1="227.0" x2="358.3" y2="225.6" stroke="#828282" stroke-width="0.9"/>
<line x1="358.3" y1="76.0" x2="358.3" y2="77.4" stroke="#828282" stroke-width="0.9"/>
<line x1="363.2" y1="227.0" x2="363.2" y2="225.6" stroke="#828282" stroke-width="0.9"/>
<line x1="363.2" y1="76.0" x2="363.2" y2="77.4" stroke="#828282" stroke-width="0.9"/>
<line x1="367.2" y1="227.0" x2="367.2" y2="225.6" stroke="#828282" stroke-width="0.9"/>
<line x1="367.2" y1="76.0" x2="367.2" y2="77.4" stroke="#828282" stroke-width="0.9"/>
<line x1="370.6" y1="227.0" x2="370.6" y2="225.6" stroke="#828282" stroke-width="0.9"/>
<line x1="370.6" y1="76.0" x2="370.6" y2="77.4" stroke="#828282" stroke-width="0.9"/>
<line x1="373.5" y1="227.0" x2="373.5" y2="225.6" stroke="#828282" stroke-width="0.9"/>
<line x1="373.5" y1="76.0" x2="373.5" y2="77.4" stroke="#828282" stroke-width="0.9"/>
<line x1="376.1" y1="227.0" x2="376.1" y2="225.6" stroke="#828282" stroke-width="0.9"/>
<line x1="376.1" y1="76.0" x2="376.1" y2="77.4" stroke="#828282" stroke-width="0.9"/>
<line x1="378.4" y1="227.0" x2="378.4" y2="225.0" stroke="#828282" stroke-width="0.9"/>
<line x1="378.4" y1="76.0" x2="378.4" y2="78.0" stroke="#828282" stroke-width="0.9"/>
<line x1="393.7" y1="227.0" x2="393.7" y2="225.6" stroke="#828282" stroke-width="0.9"/>
<line x1="393.7" y1="76.0" x2="393.7" y2="77.4" stroke="#828282" stroke-width="0.9"/>
<line x1="402.6" y1="227.0" x2="402.6" y2="225.6" stroke="#828282" stroke-width="0.9"/>
<line x1="402.6" y1="76.0" x2="402.6" y2="77.4" stroke="#828282" stroke-width="0.9"/>
<line x1="408.9" y1="227.0" x2="408.9" y2="225.6" stroke="#828282" stroke-width="0.9"/>
<line x1="408.9" y1="76.0" x2="408.9" y2="77.4" stroke="#828282" stroke-width="0.9"/>
<line x1="413.8" y1="227.0" x2="413.8" y2="225.6" stroke="#828282" stroke-width="0.9"/>
<line x1="413.8" y1="76.0" x2="413.8" y2="77.4" stroke="#828282" stroke-width="0.9"/>
<line x1="417.8" y1="227.0" x2="417.8" y2="225.6" stroke="#828282" stroke-width="0.9"/>
<line x1="417.8" y1="76.0" x2="417.8" y2="77.4" stroke="#828282" stroke-width="0.9"/>
<line x1="421.2" y1="227.0" x2="421.2" y2="225.6" stroke="#828282" stroke-width="0.9"/>
<line x1="421.2" y1="76.0" x2="421.2" y2="77.4" stroke="#828282" stroke-width="0.9"/>
<line x1="424.1" y1="227.0" x2="424.1" y2="225.6" stroke="#828282" stroke-width="0.9"/>
<line x1="424.1" y1="76.0" x2="424.1" y2="77.4" stroke="#828282" stroke-width="0.9"/>
<line x1="426.7" y1="227.0" x2="426.7" y2="225.6" stroke="#828282" stroke-width="0.9"/>
<line x1="426.7" y1="76.0" x2="426.7" y2="77.4" stroke="#828282" stroke-width="0.9"/>
<line x1="429.0" y1="227.0" x2="429.0" y2="225.0" stroke="#828282" stroke-width="0.9"/>
<line x1="429.0" y1="76.0" x2="429.0" y2="78.0" stroke="#828282" stroke-width="0.9"/>
<line x1="444.3" y1="227.0" x2="444.3" y2="225.6" stroke="#828282" stroke-width="0.9"/>
<line x1="444.3" y1="76.0" x2="444.3" y2="77.4" stroke="#828282" stroke-width="0.9"/>
<line x1="453.2" y1="227.0" x2="453.2" y2="225.6" stroke="#828282" stroke-width="0.9"/>
<line x1="453.2" y1="76.0" x2="453.2" y2="77.4" stroke="#828282" stroke-width="0.9"/>
<line x1="459.5" y1="227.0" x2="459.5" y2="225.6" stroke="#828282" stroke-width="0.9"/>
<line x1="459.5" y1="76.0" x2="459.5" y2="77.4" stroke="#828282" stroke-width="0.9"/>
<line x1="464.4" y1="227.0" x2="464.4" y2="225.6" stroke="#828282" stroke-width="0.9"/>
<line x1="464.4" y1="76.0" x2="464.4" y2="77.4" stroke="#828282" stroke-width="0.9"/>
<line x1="468.4" y1="227.0" x2="468.4" y2="225.6" stroke="#828282" stroke-width="0.9"/>
<line x1="468.4" y1="76.0" x2="468.4" y2="77.4" stroke="#828282" stroke-width="0.9"/>
<line x1="471.8" y1="227.0" x2="471.8" y2="225.6" stroke="#828282" stroke-width="0.9"/>
<line x1="471.8" y1="76.0" x2="471.8" y2="77.4" stroke="#828282" stroke-width="0.9"/>
<line x1="474.8" y1="227.0" x2="474.8" y2="225.6" stroke="#828282" stroke-width="0.9"/>
<line x1="474.8" y1="76.0" x2="474.8" y2="77.4" stroke="#828282" stroke-width="0.9"/>
<line x1="477.4" y1="227.0" x2="477.4" y2="225.6" stroke="#828282" stroke-width="0.9"/>
<line x1="477.4" y1="76.0" x2="477.4" y2="77.4" stroke="#828282" stroke-width="0.9"/>
<line x1="479.7" y1="227.0" x2="479.7" y2="225.0" stroke="#828282" stroke-width="0.9"/>
<line x1="479.7" y1="76.0" x2="479.7" y2="78.0" stroke="#828282" stroke-width="0.9"/>
<line x1="494.9" y1="227.0" x2="494.9" y2="225.6" stroke="#828282" stroke-width="0.9"/>
<line x1="494.9" y1="76.0" x2="494.9" y2="77.4" stroke="#828282" stroke-width="0.9"/>
<line x1="503.8" y1="227.0" x2="503.8" y2="225.6" stroke="#828282" stroke-width="0.9"/>
<line x1="503.8" y1="76.0" x2="503.8" y2="77.4" stroke="#828282" stroke-width="0.9"/>
<line x1="510.2" y1="227.0" x2="510.2" y2="225.6" stroke="#828282" stroke-width="0.9"/>
<line x1="510.2" y1="76.0" x2="510.2" y2="77.4" stroke="#828282" stroke-width="0.9"/>
<line x1="515.1" y1="227.0" x2="515.1" y2="225.6" stroke="#828282" stroke-width="0.9"/>
<line x1="515.1" y1="76.0" x2="515.1" y2="77.4" stroke="#828282" stroke-width="0.9"/>
<line x1="519.1" y1="227.0" x2="519.1" y2="225.6" stroke="#828282" stroke-width="0.9"/>
<line x1="519.1" y1="76.0" x2="519.1" y2="77.4" stroke="#828282" stroke-width="0.9"/>
<line x1="522.5" y1="227.0" x2="522.5" y2="225.6" stroke="#828282" stroke-width="0.9"/>
<line x1="522.5" y1="76.0" x2="522.5" y2="77.4" stroke="#828282" stroke-width="0.9"/>
<line x1="525.4" y1="227.0" x2="525.4" y2="225.6" stroke="#828282" stroke-width="0.9"/>
<line x1="525.4" y1="76.0" x2="525.4" y2="77.4" stroke="#828282" stroke-width="0.9"/>
<line x1="528.0" y1="227.0" x2="528.0" y2="225.6" stroke="#828282" stroke-width="0.9"/>
<line x1="528.0" y1="76.0" x2="528.0" y2="77.4" stroke="#828282" stroke-width="0.9"/>
<line x1="327.8" y1="204.3" x2="329.2" y2="204.3" stroke="#828282" stroke-width="0.9"/>
<line x1="530.3" y1="204.3" x2="528.9" y2="204.3" stroke="#828282" stroke-width="0.9"/>
<line x1="327.8" y1="191.0" x2="329.2" y2="191.0" stroke="#828282" stroke-width="0.9"/>
<line x1="530.3" y1="191.0" x2="528.9" y2="191.0" stroke="#828282" stroke-width="0.9"/>
<line x1="327.8" y1="181.5" x2="329.2" y2="181.5" stroke="#828282" stroke-width="0.9"/>
<line x1="530.3" y1="181.5" x2="528.9" y2="181.5" stroke="#828282" stroke-width="0.9"/>
<line x1="327.8" y1="174.2" x2="329.2" y2="174.2" stroke="#828282" stroke-width="0.9"/>
<line x1="530.3" y1="174.2" x2="528.9" y2="174.2" stroke="#828282" stroke-width="0.9"/>
<line x1="327.8" y1="168.2" x2="329.2" y2="168.2" stroke="#828282" stroke-width="0.9"/>
<line x1="530.3" y1="168.2" x2="528.9" y2="168.2" stroke="#828282" stroke-width="0.9"/>
<line x1="327.8" y1="163.2" x2="329.2" y2="163.2" stroke="#828282" stroke-width="0.9"/>
<line x1="530.3" y1="163.2" x2="528.9" y2="163.2" stroke="#828282" stroke-width="0.9"/>
<line x1="327.8" y1="158.8" x2="329.2" y2="158.8" stroke="#828282" stroke-width="0.9"/>
<line x1="530.3" y1="158.8" x2="528.9" y2="158.8" stroke="#828282" stroke-width="0.9"/>
<line x1="327.8" y1="155.0" x2="329.2" y2="155.0" stroke="#828282" stroke-width="0.9"/>
<line x1="530.3" y1="155.0" x2="528.9" y2="155.0" stroke="#828282" stroke-width="0.9"/>
<line x1="327.8" y1="151.5" x2="329.8" y2="151.5" stroke="#828282" stroke-width="0.9"/>
<line x1="530.3" y1="151.5" x2="528.3" y2="151.5" stroke="#828282" stroke-width="0.9"/>
<line x1="327.8" y1="128.8" x2="329.2" y2="128.8" stroke="#828282" stroke-width="0.9"/>
<line x1="530.3" y1="128.8" x2="528.9" y2="128.8" stroke="#828282" stroke-width="0.9"/>
<line x1="327.8" y1="115.5" x2="329.2" y2="115.5" stroke="#828282" stroke-width="0.9"/>
<line x1="530.3" y1="115.5" x2="528.9" y2="115.5" stroke="#828282" stroke-width="0.9"/>
<line x1="327.8" y1="106.0" x2="329.2" y2="106.0" stroke="#828282" stroke-width="0.9"/>
<line x1="530.3" y1="106.0" x2="528.9" y2="106.0" stroke="#828282" stroke-width="0.9"/>
<line x1="327.8" y1="98.7" x2="329.2" y2="98.7" stroke="#828282" stroke-width="0.9"/>
<line x1="530.3" y1="98.7" x2="528.9" y2="98.7" stroke="#828282" stroke-width="0.9"/>
<line x1="327.8" y1="92.7" x2="329.2" y2="92.7" stroke="#828282" stroke-width="0.9"/>
<line x1="530.3" y1="92.7" x2="528.9" y2="92.7" stroke="#828282" stroke-width="0.9"/>
<line x1="327.8" y1="87.7" x2="329.2" y2="87.7" stroke="#828282" stroke-width="0.9"/>
<line x1="530.3" y1="87.7" x2="528.9" y2="87.7" stroke="#828282" stroke-width="0.9"/>
<line x1="327.8" y1="83.3" x2="329.2" y2="83.3" stroke="#828282" stroke-width="0.9"/>
<line x1="530.3" y1="83.3" x2="528.9" y2="83.3" stroke="#828282" stroke-width="0.9"/>
<line x1="327.8" y1="79.5" x2="329.2" y2="79.5" stroke="#828282" stroke-width="0.9"/>
<line x1="530.3" y1="79.5" x2="528.9" y2="79.5" stroke="#828282" stroke-width="0.9"/>
<rect x="327.8" y="76.0" width="202.5" height="151.0" fill="none" stroke="#828282" stroke-width="1.2"/>
<text x="323" y="81.7" text-anchor="end" class="tk">10<tspan class="sup" dy="-4.6">-9</tspan></text>
<text x="323" y="157.2" text-anchor="end" class="tk">10<tspan class="sup" dy="-4.6">-10</tspan></text>
<text x="323" y="232.7" text-anchor="end" class="tk">10<tspan class="sup" dy="-4.6">-11</tspan></text>
<text x="327.8" y="245.8" text-anchor="middle" class="tk">10<tspan class="sup" dy="-4.6">0</tspan></text>
<text x="378.4" y="245.8" text-anchor="middle" class="tk">10<tspan class="sup" dy="-4.6">1</tspan></text>
<text x="429.0" y="245.8" text-anchor="middle" class="tk">10<tspan class="sup" dy="-4.6">2</tspan></text>
<text x="479.7" y="245.8" text-anchor="middle" class="tk">10<tspan class="sup" dy="-4.6">3</tspan></text>
<text x="530.3" y="245.8" text-anchor="middle" class="tk">10<tspan class="sup" dy="-4.6">4</tspan></text>
<polyline points="327.8,127.0 343.0,124.6 358.3,127.0 373.5,130.6 388.8,135.6 404.0,142.2 419.2,147.0 434.5,146.3 449.7,139.1 465.0,130.4 480.2,120.5 495.4,110.7 510.7,106.4 525.9,104.2 529.7,105.2" fill="none" stroke="#77ac30" stroke-width="1.2"/>
<rect x="325.55" y="124.75" width="4.5" height="4.5" fill="#77ac30"/>
<rect x="340.79" y="122.35" width="4.5" height="4.5" fill="#77ac30"/>
<rect x="356.03" y="124.75" width="4.5" height="4.5" fill="#77ac30"/>
<rect x="371.27" y="128.35" width="4.5" height="4.5" fill="#77ac30"/>
<rect x="386.51" y="133.35" width="4.5" height="4.5" fill="#77ac30"/>
<rect x="401.75" y="139.95" width="4.5" height="4.5" fill="#77ac30"/>
<rect x="416.99" y="144.75" width="4.5" height="4.5" fill="#77ac30"/>
<rect x="432.23" y="144.05" width="4.5" height="4.5" fill="#77ac30"/>
<rect x="447.47" y="136.85" width="4.5" height="4.5" fill="#77ac30"/>
<rect x="462.71" y="128.15" width="4.5" height="4.5" fill="#77ac30"/>
<rect x="477.95" y="118.25" width="4.5" height="4.5" fill="#77ac30"/>
<rect x="493.19" y="108.45" width="4.5" height="4.5" fill="#77ac30"/>
<rect x="508.43" y="104.15" width="4.5" height="4.5" fill="#77ac30"/>
<rect x="523.67" y="101.95" width="4.5" height="4.5" fill="#77ac30"/>
<polyline points="327.8,156.6 343.0,154.6 358.3,156.6 373.5,158.4 388.8,160.6 404.0,161.0 419.2,156.8 434.5,148.9 449.7,137.6 465.0,127.7 480.2,122.3 495.4,117.3 510.7,113.6 525.9,110.0 529.7,108.6" fill="none" stroke="#008000" stroke-width="1.2"/>
<rect x="325.55" y="154.35" width="4.5" height="4.5" fill="#008000"/>
<rect x="340.79" y="152.35" width="4.5" height="4.5" fill="#008000"/>
<rect x="356.03" y="154.35" width="4.5" height="4.5" fill="#008000"/>
<rect x="371.27" y="156.15" width="4.5" height="4.5" fill="#008000"/>
<rect x="386.51" y="158.35" width="4.5" height="4.5" fill="#008000"/>
<rect x="401.75" y="158.75" width="4.5" height="4.5" fill="#008000"/>
<rect x="416.99" y="154.55" width="4.5" height="4.5" fill="#008000"/>
<rect x="432.23" y="146.65" width="4.5" height="4.5" fill="#008000"/>
<rect x="447.47" y="135.35" width="4.5" height="4.5" fill="#008000"/>
<rect x="462.71" y="125.45" width="4.5" height="4.5" fill="#008000"/>
<rect x="477.95" y="120.05" width="4.5" height="4.5" fill="#008000"/>
<rect x="493.19" y="115.05" width="4.5" height="4.5" fill="#008000"/>
<rect x="508.43" y="111.35" width="4.5" height="4.5" fill="#008000"/>
<rect x="523.67" y="107.75" width="4.5" height="4.5" fill="#008000"/>
<text class="lab" x="428.2" y="260.6" text-anchor="middle" textLength="116" lengthAdjust="spacingAndGlyphs">Integration time &#964;&#160; in s</text>
<text class="lab" x="427.7" y="278" text-anchor="middle">(c)</text>
<text class="yl" transform="translate(292,152.2) rotate(-90)" text-anchor="middle" textLength="41" lengthAdjust="spacingAndGlyphs">rel. A<tspan class="sub" style="font-style:normal" dy="2.4">Dev</tspan></text>
<!-- legend -->
<text class="lab" x="281" y="319.6" textLength="39.5" lengthAdjust="spacingAndGlyphs">Legend:</text>
<line x1="345.3" y1="315.3" x2="370.8" y2="315.3" stroke="#008000" stroke-width="1.3"/>
<rect x="355.4" y="313.0" width="4.6" height="4.6" fill="#008000"/>
<line x1="345.3" y1="332.7" x2="370.8" y2="332.7" stroke="#77ac30" stroke-width="1.3"/>
<rect x="355.5" y="330.4" width="4.6" height="4.6" fill="#77ac30"/>
<text class="lab" x="382" y="320" textLength="160.5" lengthAdjust="spacingAndGlyphs">Secondary Standard Laser (SSL)</text>
<text class="lab" x="382" y="340" textLength="112.5" lengthAdjust="spacingAndGlyphs">Metrology Laser (ML)</text>
</svg>
</body></html>
